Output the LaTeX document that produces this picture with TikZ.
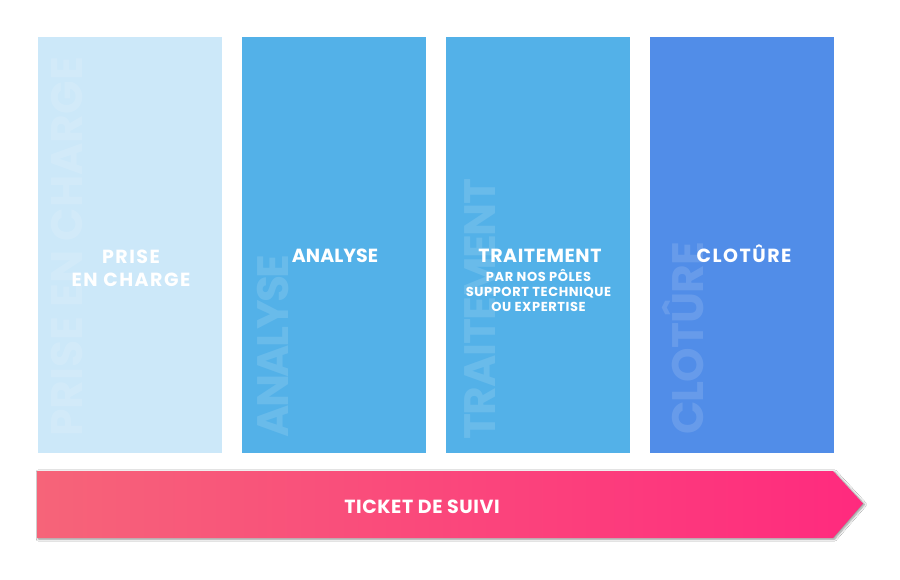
\documentclass[tikz,border=0pt]{standalone}
\usepackage{fontspec}
\setmainfont{Poppins}
\usetikzlibrary{shadows.blur}
\definecolor{colA}{HTML}{CCE8F9}
\definecolor{colB}{HTML}{53B1E8}
\definecolor{colC}{HTML}{518DE8}
\definecolor{arrL}{HTML}{F66479}
\definecolor{arrR}{HTML}{FF2A7E}
\begin{document}
\begin{tikzpicture}[x=1pt,y=-1pt,
  water/.style={rotate=90,anchor=base west,inner sep=0pt,text=white,text opacity=0.13,
    font=\fontsize{44}{44}\selectfont\bfseries\addfontfeatures{LetterSpace=#1}},
  water/.default=0,
  title/.style={anchor=base,inner sep=0pt,text=white,
    font=\fontsize{19}{19}\selectfont\bfseries\addfontfeatures{LetterSpace=#1}},
  title/.default=0,
  sub/.style={anchor=base,inner sep=0pt,text=white,
    font=\fontsize{13}{13}\selectfont\bfseries\addfontfeatures{LetterSpace=4.5}}]
\useasboundingbox (0,0) rectangle (900,580);
\fill[white] (0,0) rectangle (900,580);
% columns
\fill[colA] (38,37) rectangle (222,453);
\fill[colB] (242,37) rectangle (426,453);
\fill[colB] (446,37) rectangle (630,453);
\fill[colC] (650,37) rectangle (834,453);
% watermarks
\node[water=0] (w1) at (82,437) {PRISE EN CHARGE};
\node[water=-6] (w2) at (288,438) {ANALYSE};
\node[water=-3] (w3) at (495,440) {TRAITEMENT};
\node[water=-2] (w4) at (703,435) {CLOTÛRE};
% titles
\node[title=8] (t1a) at (131,264) {PRISE};
\node[title=8] (t1b) at (131,287) {EN CHARGE};
\node[title=0] (t2) at (335,263) {ANALYSE};
\node[title=3] (t3) at (540,263) {TRAITEMENT};
\node[sub] (s3a) at (538.5,281) {PAR NOS PÔLES};
\node[sub] (s3b) at (538.5,297) {SUPPORT TECHNIQUE};
\node[sub] (s3c) at (538.5,312) {OU EXPERTISE};
\node[title=8] (t4) at (744,263) {CLOTÛRE};
% arrow
\path[left color=arrL,right color=arrR,
  blur shadow={shadow xshift=1.5pt,shadow yshift=-1pt,shadow blur steps=6,shadow opacity=45}]
  (37,471) -- (833,471) -- (863,503.5) -- (833,538) -- (37,538) -- cycle;
\node[title=3] (tk) at (422,513) {TICKET DE SUIVI};
\end{tikzpicture}
\end{document}
